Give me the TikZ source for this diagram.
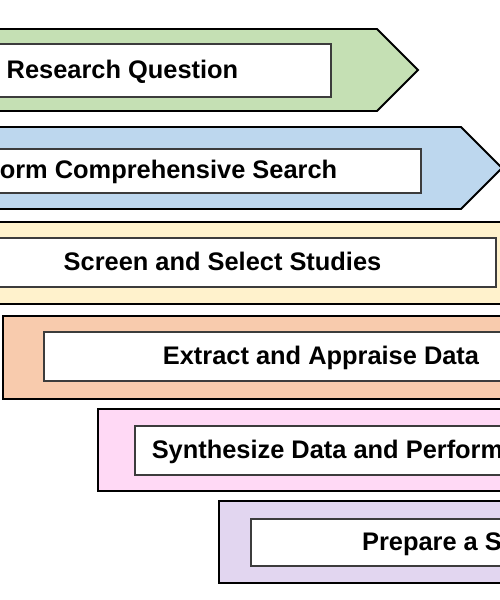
\documentclass[tikz,border=0pt]{standalone}
\usepackage{fontspec}
\setmainfont{Liberation Sans}
\usepackage{tikz}
\usepackage{xcolor}
\definecolor{leafgreen}{RGB}{197,224,180}
\definecolor{paleblue}{RGB}{189,215,238}
\definecolor{cream}{RGB}{255,242,204}
\definecolor{peach}{RGB}{248,203,173}
\definecolor{blush}{RGB}{255,217,245}
\definecolor{lilac}{RGB}{226,214,240}
\definecolor{boxedge}{RGB}{60,60,60}

\begin{document}
\begin{tikzpicture}[x=1pt, y=-1pt,
    band/.style={draw=black, line width=1.8pt, line join=miter},
    inbox/.style={draw=boxedge, line width=1.3pt, fill=white, inner sep=0pt,
      text height=15pt, text depth=0pt,
      font=\fontsize{25.4}{30}\selectfont\bfseries}]
        \useasboundingbox (0,0) rectangle (500,600);
        \clip (0,0) rectangle (500,600);

        % Stage 1 (green)
        \draw[band, fill=leafgreen] (-30,29) -- (377,29) -- (418,70) -- (377,111) -- (-30,111) -- cycle;
        \node[inbox, minimum width=417pt, minimum height=53pt] (q1) at (122.5,70.5) {Research Question};

        % Stage 2 (blue)
        \draw[band, fill=paleblue] (-30,127) -- (461,127) -- (502,168) -- (461,209) -- (-30,209) -- cycle;
        \node[inbox, minimum width=505pt, minimum height=44pt] (q2) at (168.5,171) {orm Comprehensive Search};

        % Stage 3 (yellow)
        \draw[band, fill=cream] (-30,222) -- (560,222) -- (600,263) -- (560,304) -- (-30,304) -- cycle;
        \node[inbox, minimum width=547pt, minimum height=49pt] (q3) at (222.5,262.5) {Screen and Select Studies};

        % Stage 4 (orange)
        \draw[band, fill=peach] (3,316) -- (620,316) -- (660,357) -- (620,399) -- (3,399) -- cycle;
        \node[inbox, minimum width=554pt, minimum height=49pt] (q4) at (321,356.5) {Extract and Appraise Data};

        % Stage 5 (pink)
        \draw[band, fill=blush] (98,409) -- (620,409) -- (660,450) -- (620,491) -- (98,491) -- cycle;
        \node[inbox, minimum width=385pt, minimum height=49pt] (q5) at (327.5,450.5) {Synthesize Data and Perform};

        % Stage 6 (purple)
        \draw[band, fill=lilac] (219,501) -- (640,501) -- (680,542) -- (640,583) -- (219,583) -- cycle;
        \node[inbox, minimum width=362pt, minimum height=47pt] (q6) at (432,542.5) {Prepare a S};
      \end{tikzpicture}
\end{document}
